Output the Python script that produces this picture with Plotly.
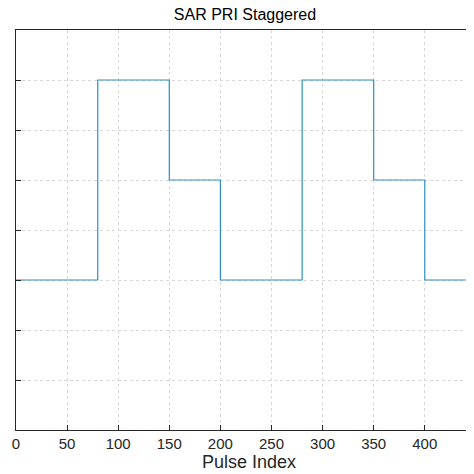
import plotly.graph_objects as go

pulse_idx = [0, 80, 150, 200, 280, 350, 400, 460]
pri_level = [3, 7, 5, 3, 7, 5, 3, 3]
x_ticks = [0, 50, 100, 150, 200, 250, 300, 350, 400, 450]
x_labels = ["0", "50", "100", "150", "200", "250", "300", "350", "400", "450"]

fig = go.Figure(go.Scatter(x=pulse_idx, y=pri_level, mode="lines", line_shape="hv",
                           line=dict(color="#2f8fc0", width=1.2)))
ax = dict(showgrid=True, gridcolor="#d8d8d8", griddash="dot", showline=True, linecolor="#262626",
          mirror=True, ticks="inside", ticklen=5, tickcolor="#262626", zeroline=False, automargin=False)
fig.update_xaxes(range=[0, 456], tickvals=x_ticks, ticktext=x_labels,
                 title=dict(text="Pulse Index", standoff=2), **ax)
fig.update_yaxes(range=[0, 8], dtick=1, showticklabels=False, **ax)
fig.update_layout(width=474, height=474, margin=dict(l=8, r=0, t=22, b=52, autoexpand=False),
                  plot_bgcolor="white", paper_bgcolor="white", showlegend=False,
                  font=dict(family="Liberation Sans, Arial", size=15, color="#262626"),
                  title=dict(text="SAR PRI Staggered", x=0.5, xanchor="center", y=0.999, yanchor="top",
                             font=dict(size=16, color="#000")))
fig.write_html("out.html")
